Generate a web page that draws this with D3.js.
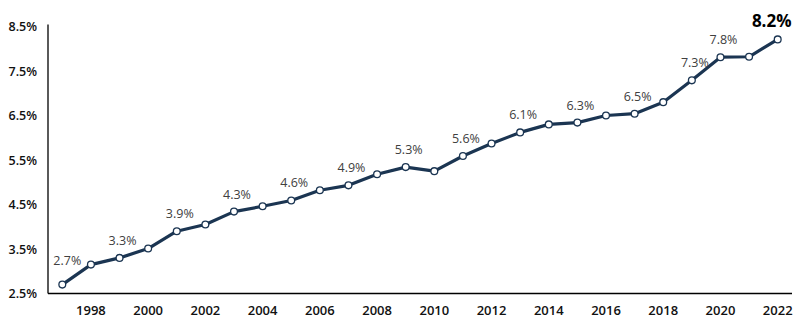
<!DOCTYPE html>
<html><head><meta charset="utf-8">
<script src="https://cdn.jsdelivr.net/npm/d3@7"></script>
<style>body{margin:0;background:#fff}svg{display:block}</style>
</head><body>
<svg id="c" width="801" height="330"></svg>
<script>
const years = [1997,1998,1999,2000,2001,2002,2003,2004,2005,2006,2007,2008,2009,2010,2011,2012,2013,2014,2015,2016,2017,2018,2019,2020,2021,2022];
const values = [2.70,3.15,3.30,3.51,3.90,4.05,4.34,4.46,4.59,4.82,4.93,5.18,5.34,5.25,5.59,5.87,6.12,6.30,6.34,6.50,6.54,6.80,7.29,7.81,7.82,8.21];
const labelYears = [1997,1999,2001,2003,2005,2007,2009,2011,2013,2015,2017,2019,2020,2022];
const yTicks = [2.5,3.5,4.5,5.5,6.5,7.5,8.5];
const xTickYears = [1998,2000,2002,2004,2006,2008,2010,2012,2014,2016,2018,2020,2022];

const svg = d3.select("#c");
const font = "'Open Sans', 'DejaVu Sans', sans-serif";
const L = 48, R = 792, T = 26.5, B = 293.5;
const x = d3.scaleBand().domain(years).range([L, R]);
const y = d3.scaleLinear().domain([2.5, 8.5]).range([B, T]);
const cx = d => x(d) + x.bandwidth()/2;

const data = years.map((yr,i)=>({yr, v: values[i]}));

// y axis
const ya = svg.append("g").attr("transform",`translate(${L},0)`)
  .call(d3.axisLeft(y).tickValues(yTicks).tickSize(0).tickPadding(11).tickFormat(d=>d.toFixed(1)+"%"));
ya.select(".domain").attr("stroke","#000").attr("stroke-width",1.3).attr("d",`M0,${T-2}V${B}`);
ya.selectAll("text").attr("font-family",font).attr("font-size",12.5).attr("font-weight",600).attr("fill","#111");

// x axis
const xa = svg.append("g").attr("transform",`translate(0,${B})`)
  .call(d3.axisBottom(x).tickValues(xTickYears).tickSize(0).tickPadding(12));
xa.select(".domain").attr("stroke","#000").attr("stroke-width",1.3).attr("d",`M${L},0H${R}`);
xa.selectAll("text").attr("font-family",font).attr("font-size",13).attr("font-weight",600).attr("fill","#111");

// line
svg.append("path").datum(data)
  .attr("fill","none").attr("stroke","#1b3552").attr("stroke-width",3.2).attr("stroke-linejoin","round")
  .attr("d", d3.line().x(d=>cx(d.yr)).y(d=>y(d.v)));

svg.selectAll("circle.pt").data(data).join("circle")
  .attr("cx",d=>cx(d.yr)).attr("cy",d=>y(d.v)).attr("r",3.4)
  .attr("fill","#fff").attr("stroke","#1b3552").attr("stroke-width",1.3);

// labels
const last = years[years.length-1];
svg.selectAll("text.lbl").data(data.filter(d=>labelYears.includes(d.yr))).join("text")
  .attr("class","lbl")
  .attr("x",d=>cx(d.yr) + (d.yr===last ? -6 : (d.yr===years[0] ? 5 : 3)))
  .attr("y",d=>y(d.v) - (d.yr===last ? 12 : (d.yr===years[0] ? 20 : 13)))
  .attr("text-anchor","middle")
  .attr("font-family",font)
  .attr("font-size",d=>d.yr===last?17:12.5)
  .attr("font-weight",d=>d.yr===last?700:400)
  .attr("fill",d=>d.yr===last?"#000":"#404040")
  .text(d=>d.v.toFixed(1)+"%");
</script>
</body></html>
